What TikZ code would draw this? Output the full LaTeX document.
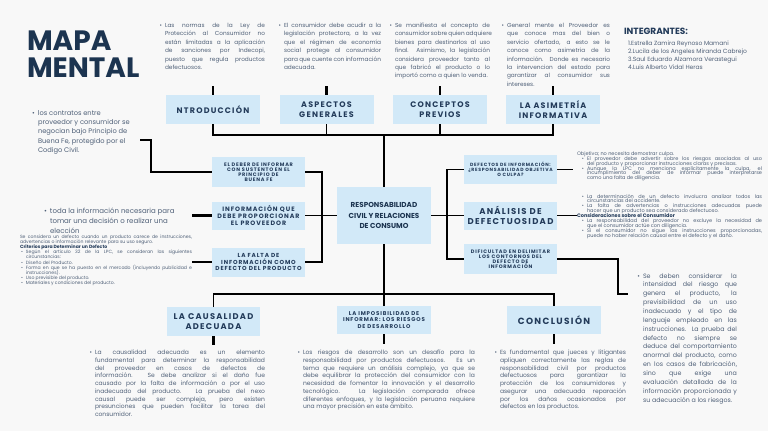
\documentclass[tikz,border=0pt]{standalone}
\usepackage{fontspec}
\setmainfont{Poppins}
\newfontfamily\headfont[LetterSpace=15]{Poppins}
\definecolor{bgc}{HTML}{F8F8F8}
\definecolor{boxc}{HTML}{D2E9F8}
\definecolor{navy}{HTML}{233B5A}
\definecolor{titlec}{HTML}{1C3450}
\definecolor{bodyc}{HTML}{4F6078}
\newlength\bw
\newcommand\J[1]{\hbox to\bw{#1}}
\newcommand\R[1]{\hbox to\bw{#1\hfil}}
\newcommand\B{\llap{•\hskip3bp}}
\newcommand\blk[3]{\vtop{\setlength\bw{#1}\baselineskip=#2\lineskiplimit=-20bp\lineskip=0pt #3}}
\tikzset{
  every node/.style={inner sep=0pt, outer sep=0pt},
  hbox/.style={fill=boxc, text=navy, align=center, minimum width=94bp, minimum height=29bp},
  body/.style={anchor=base west, text=bodyc},
  conn/.style={draw=black, line width=1.8bp},
  thinc/.style={draw=black, line width=1.2bp},
  thickc/.style={draw=black, line width=2.8bp},
}
\begin{document}
\begin{tikzpicture}[x=1bp, y=-1bp]
\fill[bgc] (0,0) rectangle (768,431);
\useasboundingbox (0,0) rectangle (768,431);

% title
\node[anchor=base west, text=titlec, font=\bfseries\fontsize{28bp}{28bp}\selectfont] (mapa) at (27,50.5) {MAPA};
\node[anchor=base west, text=titlec, font=\bfseries\fontsize{28bp}{28bp}\selectfont] (mental) at (27,77.5) {MENTAL};

% integrantes
\node[anchor=base west, text=navy, font=\bfseries\fontsize{9bp}{9bp}\selectfont] (integ) at (624,34) {INTEGRANTES:};
\node[body, font=\fontsize{6bp}{8bp}\selectfont] (names) at (628,45.5) {\blk{130bp}{7.9bp}{%
\R{1.Estrella Zamira Reynoso Mamani}\R{2.Lucila de los Angeles Miranda Cabrejo}\R{3.Saul Eduardo Alzamora Verastegui}\R{4.Luis Alberto Vidal Heras}}};

% top texts
\node[body, font=\fontsize{5.8bp}{8.4bp}\selectfont] (txa) at (165,27.5) {\blk{100bp}{8.4bp}{%
\J{\B Las normas de la Ley de}
\J{Protección al Consumidor no}
\J{están limitadas a la aplicación}
\J{de sanciones por Indecopi,}
\J{puesto que regula productos}
\R{defectuosos.}}};
\node[body, font=\fontsize{5.8bp}{8.4bp}\selectfont] (txb) at (284,27.5) {\blk{97bp}{8.4bp}{%
\J{\B El consumidor debe acudir a la}
\J{legislación protectora, a la vez}
\J{que el régimen de economía}
\J{social protege al consumidor}
\J{para que cuente con información}
\R{adecuada.}}};
\node[body, font=\fontsize{5.8bp}{8.4bp}\selectfont] (txc) at (395,27.5) {\blk{95bp}{8.4bp}{%
\J{\B Se manifiesta el concepto de}
\J{consumidor sobre quien adquiere}
\J{bienes para destinarlos al uso}
\J{final. Asimismo, la legislación}
\J{considera proveedor tanto al}
\J{que fabricó el producto o lo}
\R{importó como a quien lo venda.}}};
\node[body, font=\fontsize{5.8bp}{8.4bp}\selectfont] (txd) at (507,27.5) {\blk{103bp}{8.4bp}{%
\J{\B General mente el Proveedor es}
\J{que conoce mas del bien o}
\J{servicio ofertado, a esto se le}
\J{conoce como asimetria de la}
\J{información. Donde es necesario}
\J{la intervencion del estado para}
\J{garantizar al consumidor sus}
\R{intereses.}}};

% left texts
\node[body, font=\fontsize{6.7bp}{9.4bp}\selectfont] (txintro) at (38,115) {\blk{100bp}{9.4bp}{%
\R{\B los contratos entre}
\R{proveedor y consumidor se}
\R{negocian bajo Principio de}
\R{Buena Fe, protegido por el}
\R{Codigo Civil.}}};
\node[body, font=\fontsize{7bp}{10.5bp}\selectfont] (txtoda) at (50,213) {\blk{135bp}{10.4bp}{%
\R{\B toda la información necesaria para}
\R{tomar una decisión o realizar una}
\R{elección}}};
\node[body, font=\fontsize{4.6bp}{5.1bp}\selectfont] (txcrit) at (20,238.5) {\blk{172bp}{5.1bp}{%
\J{Se considera un defecto cuando un producto carece de instrucciones,}
\R{advertencias o información relevante para su uso seguro.}
\R{\bfseries\color{navy}Criterios para Determinar un Defecto}
\J{\hskip6bp\B Según el artículo 32 de la LPC, se consideran las siguientes}
\R{\hskip6bp circunstancias:}
\R{\hskip6bp\B Diseño del Producto.}
\J{\hskip6bp\B Forma en que se ha puesto en el mercado (incluyendo publicidad e}
\R{\hskip6bp instrucciones).}
\R{\hskip6bp\B Uso previsible del producto.}
\R{\hskip6bp\B Materiales y condiciones del producto.}}};

% right middle texts
\node[body, font=\fontsize{5bp}{4.9bp}\selectfont] (txr1) at (577,155.3) {\blk{185bp}{4.9bp}{%
\R{Objetiva; no necesita demostrar culpa.}
\J{\hskip10bp\B El proveedor debe advertir sobre los riesgos asociados al uso}
\R{\hskip10bp del producto y proporcionar instrucciones claras y precisas.}
\J{\hskip10bp\B Aunque la LPC no menciona explícitamente la culpa, el}
\J{\hskip10bp incumplimiento del deber de informar puede interpretarse}
\R{\hskip10bp como una falta de diligencia.}}};
\node[body, font=\fontsize{5bp}{4.9bp}\selectfont] (txr2) at (577,198) {\blk{185bp}{4.9bp}{%
\J{\hskip10bp\B La determinación de un defecto involucra analizar todos las}
\R{\hskip10bp circunstancias del accidente.}
\J{\hskip10bp\B La falta de advertencias o instrucciones adecuadas puede}
\R{\hskip10bp hacer que un producto sea considerado defectuoso.}
\R{\bfseries\color{navy}Consideraciones sobre el Consumidor}
\J{\hskip10bp\B La responsabilidad del proveedor no excluye la necesidad de}
\R{\hskip10bp que el consumidor actúe con diligencia.}
\J{\hskip10bp\B Si el consumidor no sigue las instrucciones proporcionadas,}
\R{\hskip10bp puede no haber relación causal entre el defecto y el daño.}}};

% right bottom text
\node[body, font=\fontsize{6.3bp}{8.86bp}\selectfont] (txrb) at (643,278) {\blk{94bp}{8.86bp}{%
\J{\B Se deben considerar la}
\J{intensidad del riesgo que}
\J{genera el producto, la}
\J{previsibilidad de un uso}
\J{inadecuado y el tipo de}
\J{lenguaje empleado en las}
\J{instrucciones. La prueba del}
\J{defecto no siempre se}
\J{deduce del comportamiento}
\J{anormal del producto, como}
\J{en los casos de fabricación,}
\J{sino que exige una}
\J{evaluación detallada de la}
\J{información proporcionada y}
\R{su adecuación a los riesgos.}}};

% bottom texts
\node[body, font=\fontsize{6bp}{7.75bp}\selectfont] (txba) at (95,354.6) {\blk{170bp}{7.75bp}{%
\J{\B La causalidad adecuada es un elemento}
\J{fundamental para determinar la responsabilidad}
\J{del proveedor en casos de defectos de}
\J{información. Se debe analizar si el daño fue}
\J{causado por la falta de información o por el uso}
\J{inadecuado del producto. La prueba del nexo}
\J{causal puede ser compleja, pero existen}
\J{presunciones que pueden facilitar la tarea del}
\R{consumidor.}}};
\node[body, font=\fontsize{6bp}{7.75bp}\selectfont] (txbb) at (303,354.6) {\blk{172bp}{7.75bp}{%
\J{\B Los riesgos de desarrollo son un desafío para la}
\J{responsabilidad por productos defectuosos. Es un}
\J{tema que requiere un análisis complejo, ya que se}
\J{debe equilibrar la protección del consumidor con la}
\J{necesidad de fomentar la innovación y el desarrollo}
\J{tecnológico. La legislación comparada ofrece}
\J{diferentes enfoques, y la legislación peruana requiere}
\R{una mayor precisión en este ámbito.}}};
\node[body, font=\fontsize{6bp}{7.75bp}\selectfont] (txbc) at (500,354.6) {\blk{126bp}{7.75bp}{%
\J{\B Es fundamental que jueces y litigantes}
\J{apliquen correctamente las reglas de}
\J{responsabilidad civil por productos}
\J{defectuosos para garantizar la}
\J{protección de los consumidores y}
\J{asegurar una adecuada reparación}
\J{por los daños ocasionados por}
\R{defectos en los productos.}}};

% top boxes
\node[hbox, font=\headfont\bfseries\fontsize{8bp}{10.5bp}\selectfont] (intro) at (213,109.5) {NTRODUCCIÓN};
\node[hbox, font=\headfont\bfseries\fontsize{8bp}{10.5bp}\selectfont] (asp) at (326.5,109.5) {ASPECTOS\\GENERALES};
\node[hbox, font=\headfont\bfseries\fontsize{8bp}{10.5bp}\selectfont] (conc) at (440,109.5) {CONCEPTOS\\PREVIOS};
\node[hbox, font=\headfont\bfseries\fontsize{8bp}{10.5bp}\selectfont] (asim) at (553,109.5) {LA ASIMETRÍA\\INFORMATIVA};

% left boxes
\node[hbox, minimum width=93bp, minimum height=30bp, font=\headfont\bfseries\fontsize{5bp}{4.9bp}\selectfont] (deber) at (258.5,172) {EL DEBER DE INFORMAR\\CON SUSTENTO EN EL\\PRINCIPIO DE\\BUENA FE};
\node[hbox, minimum width=93bp, minimum height=28bp, font=\headfont\bfseries\fontsize{6.3bp}{6.8bp}\selectfont] (infq) at (258.5,215.5) {INFORMACIÓN QUE\\DEBE PROPORCIONAR\\EL PROVEEDOR};
\node[hbox, minimum width=93bp, minimum height=29bp, font=\headfont\bfseries\fontsize{5.8bp}{6.3bp}\selectfont] (falta) at (258.5,262) {LA FALTA DE\\INFORMACIÓN COMO\\DEFECTO DEL PRODUCTO};

% center
\node[hbox, minimum width=94bp, minimum height=57bp, text=titlec, font=\bfseries\fontsize{7.2bp}{10.5bp}\selectfont] (resp) at (384,215.5) {RESPONSABILIDAD\\CIVIL Y RELACIONES\\DE CONSUMO};

% right boxes
\node[hbox, minimum width=93bp, minimum height=29bp, font=\headfont\bfseries\fontsize{4.6bp}{4.8bp}\selectfont] (defi) at (510.5,169.5) {DEFECTOS DE INFORMACIÓN:\\¿RESPONSABILIDAD OBJETIVA\\O CULPA?};
\node[hbox, minimum width=93bp, minimum height=28bp, font=\headfont\bfseries\fontsize{8.5bp}{10.5bp}\selectfont] (anal) at (510.5,215.5) {ANÁLISIS DE\\DEFECTUOSIDAD};
\node[hbox, minimum width=93bp, minimum height=30bp, font=\headfont\bfseries\fontsize{5bp}{5bp}\selectfont] (difi) at (510.5,259) {DIFICULTAD EN DELIMITAR\\LOS CONTORNOS DEL\\DEFECTO DE\\INFORMACIÓN};

% bottom boxes
\node[hbox, minimum width=93bp, minimum height=29bp, font=\headfont\bfseries\fontsize{8.3bp}{10.5bp}\selectfont] (caus) at (213.5,321.5) {LA CAUSALIDAD\\ADECUADA};
\node[hbox, minimum width=94bp, minimum height=28bp, font=\headfont\bfseries\fontsize{5.5bp}{6.3bp}\selectfont] (impo) at (384,320) {LA IMPOSIBILIDAD DE\\INFORMAR: LOS RIESGOS\\DE DESARROLLO};
\node[hbox, minimum width=94bp, minimum height=28bp, font=\headfont\bfseries\fontsize{9bp}{10.5bp}\selectfont] (concl) at (554,320) {CONCLUSIÓN};

% coordinates
\coordinate (tb) at (384,135);
\coordinate (bb) at (384,294);
\coordinate (s1) at (213,86);
\coordinate (s2) at (326.5,86);
\coordinate (s3) at (440,86);
\coordinate (s4) at (553,86);
\coordinate (lbt) at (322,172);
\coordinate (lbb) at (322,262);
\coordinate (rbt) at (447,169.5);
\coordinate (rbb) at (447,259);
\coordinate (o1) at (573,169.5);
\coordinate (o2) at (577,215.5);
\coordinate (o3) at (618,259);
\coordinate (o4) at (628,294);
\coordinate (i1) at (140,140);
\coordinate (i2) at (151,172);
\coordinate (i3) at (192,215.5);
\coordinate (i4) at (192,262);
\coordinate (b1) at (213.5,345);
\coordinate (b2) at (384,344);
\coordinate (b3) at (554,344);

% connectors top
\draw[thickc] (s1) -- (intro.north);
\draw[thickc] (s2) -- (asp.north);
\draw[thickc] (s3) -- (conc.north);
\draw[thickc] (s4) -- (asim.north);
\draw[conn] (intro.south) |- (tb);
\draw[conn] (asim.south) |- (tb);
\draw[conn] (asp.south) -- (asp.south |- tb);
\draw[conn] (conc.south) -- (conc.south |- tb);
\draw[conn] (resp.north) -- (tb);

% left
\draw[conn] (i1) -| (i2) -- (deber.west);
\draw[thickc] (i3) -- (infq.west);
\draw[thinc] (i4) -- (falta.west);
\draw[conn] (deber.east) -- (lbt) -- (lbb) -- (falta.east);
\draw[conn] (infq.east) -- (resp.west);

% right
\draw[conn] (defi.west) -- (rbt) -- (rbb) -- (difi.west);
\draw[conn] (resp.east) -- (anal.west);
\draw[thinc] (defi.east) -- (o1);
\draw[thinc] (anal.east) -- (o2);
\draw[conn] (difi.east) -- (o3) |- (o4);

% bottom
\draw[conn] (resp.south) -- (bb);
\draw[conn] (caus.north) |- (bb);
\draw[conn] (concl.north) |- (bb);
\draw[conn] (impo.north) -- (bb);
\draw[thickc] (caus.south) -- (b1);
\draw[thickc] (impo.south) -- (b2);
\draw[thickc] (concl.south) -- (b3);
\end{tikzpicture}
\end{document}
